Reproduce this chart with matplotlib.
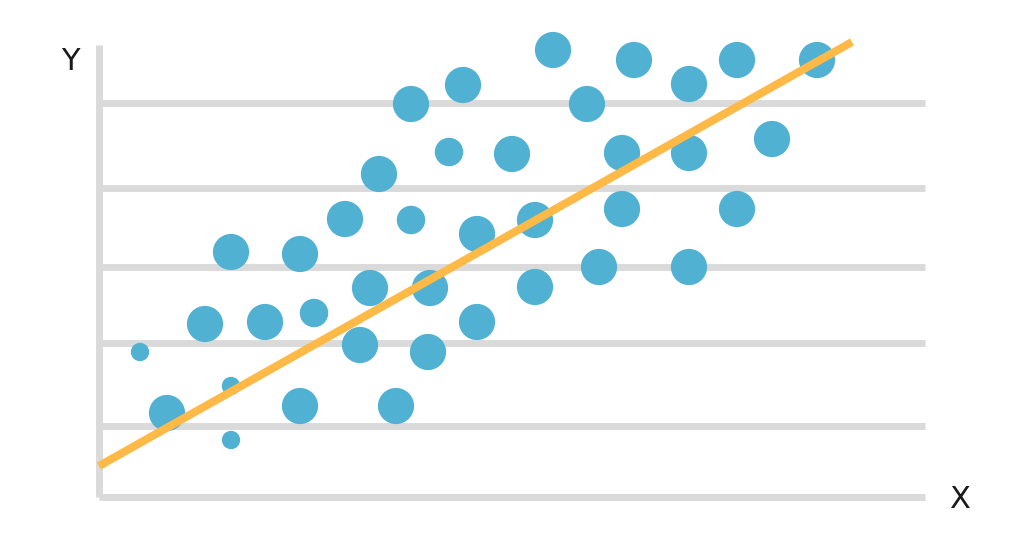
import numpy as np
import matplotlib
matplotlib.use('Agg')
from matplotlib import pyplot as plt

# scatter data (arbitrary units, origin at axis corner)
x_vals = [4.1, 6.8, 10.6, 13.2, 13.2, 13.2, 16.6, 20.1, 21.5, 20.1,
          24.6, 27.1, 26.1, 28.0, 29.7, 31.2, 31.2, 33.1, 32.9, 35.0,
          36.4, 37.8, 37.8, 41.3, 43.6, 43.6, 45.4, 48.8, 50.0, 52.3,
          52.3, 53.5, 59.0, 59.0, 59.0, 63.8, 63.8, 67.3, 71.8]
y_vals = [14.5, 8.4, 17.3, 24.5, 11.1, 5.7, 17.5, 24.3, 18.4, 9.1,
          27.8, 20.9, 15.2, 32.3, 9.1, 39.3, 27.7, 20.9, 14.5, 34.5,
          41.2, 26.3, 17.5, 34.3, 27.7, 21.0, 44.7, 39.3, 23.0, 34.4,
          28.8, 43.7, 41.3, 34.4, 23.0, 43.7, 28.8, 35.8, 43.7]
weights = [1, 3, 3, 3, 1, 1, 3, 3, 2, 3,
           3, 3, 3, 3, 3, 3, 2, 3, 3, 2,
           3, 3, 3, 3, 3, 3, 3, 3, 3, 3,
           3, 3, 3, 3, 3, 3, 3, 3, 3]

grid_levels = [7.1, 15.4, 23.0, 30.9, 39.4]
x_end = 82.6
y_top = 45.2

# trend line
trend_x = [0.0, 75.3]
trend_y = [3.1, 45.5]

blue = '#51B1D3'
orange = '#FFB947'
gray = '#DADADA'

fig = plt.figure(figsize=(10.24, 5.35), dpi=100)
ax = fig.add_axes([0, 0, 1, 1])
ax.set_xlim(-9.9, 92.5)
ax.set_ylim(-3.8, 49.7)
ax.axis('off')

ax.hlines(grid_levels, 0, x_end, color=gray, lw=5, capstyle='butt', zorder=1)
ax.hlines(0, 0, x_end, color=gray, lw=5, capstyle='butt', zorder=1)
ax.vlines(0, 0, y_top, color=gray, lw=5, capstyle='butt', zorder=1)

area = {1: 175, 2: 420, 3: 680}
sizes = [area[w] for w in weights]
ax.scatter(x_vals, y_vals, s=sizes, color=blue, edgecolors='none', zorder=2)

ax.plot(trend_x, trend_y, color=orange, lw=5.8, solid_capstyle='butt', zorder=3)

ax.text(-2.9, 43.5, 'Y', fontsize=22, color='#1a1a1a', ha='center', va='center')
ax.text(86.1, -0.3, 'X', fontsize=22, color='#1a1a1a', ha='center', va='center')

fig.savefig('out.png', dpi=100, facecolor='white')
